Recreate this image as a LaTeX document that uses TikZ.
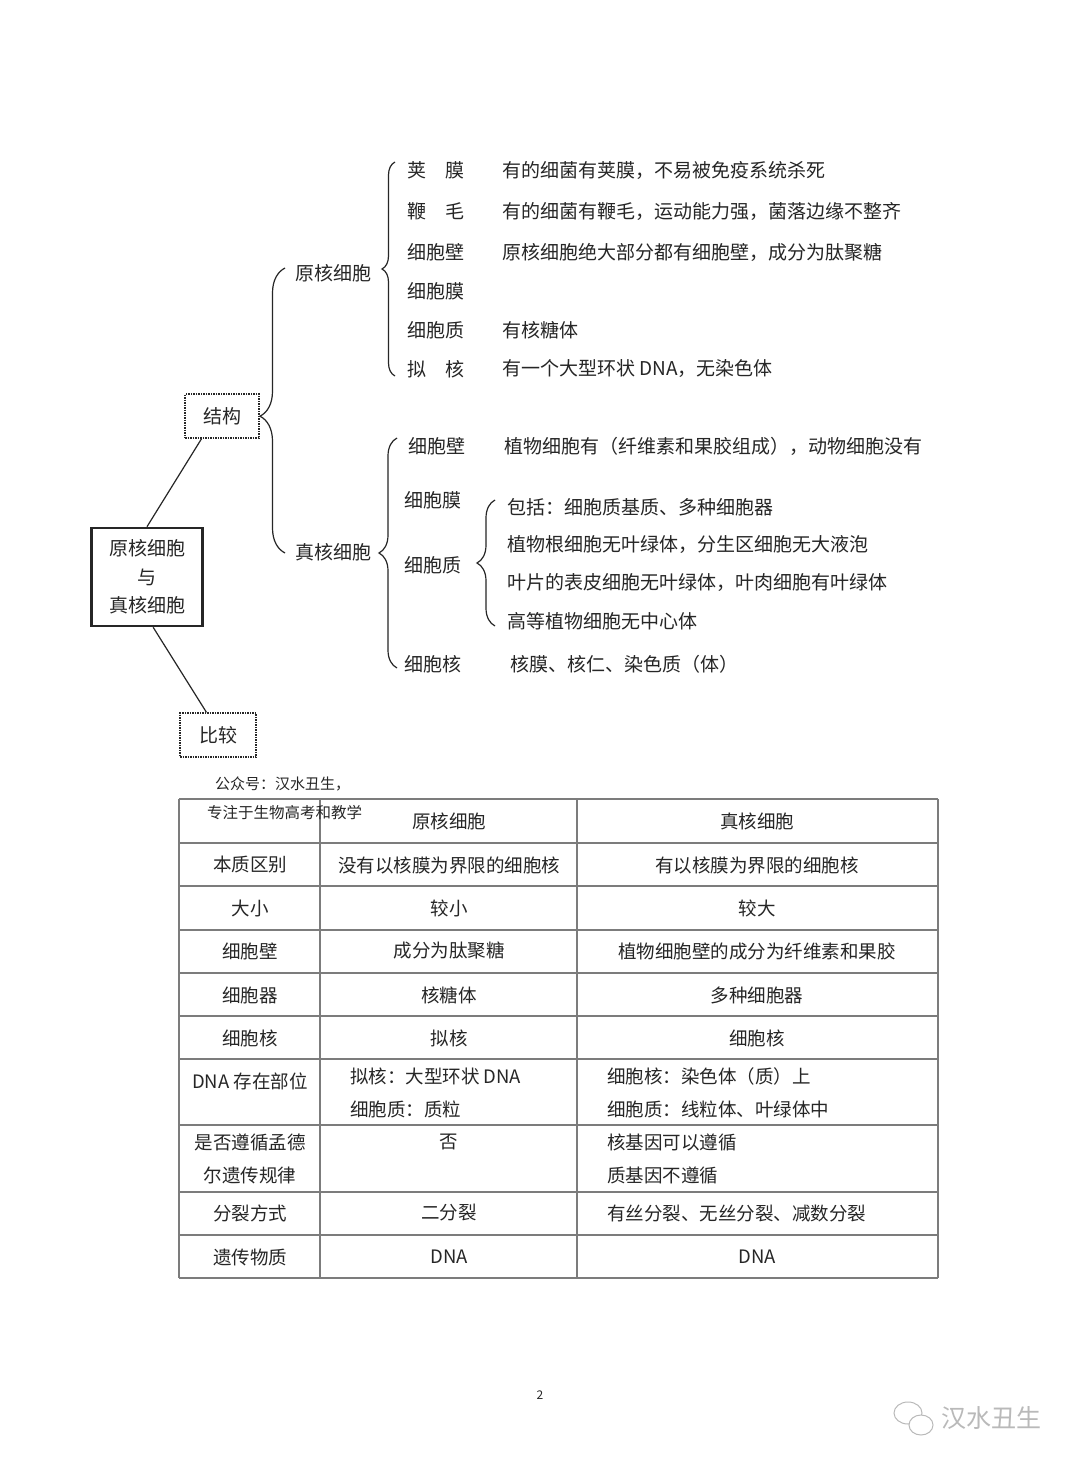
\documentclass[tikz,border=0pt]{standalone}
\usepackage{fontspec}
\setmainfont{Noto Sans CJK SC}
\usetikzlibrary{decorations.pathreplacing}
\definecolor{InkGray}{HTML}{262626}
\definecolor{RuleGray}{HTML}{7C7C7C}
\definecolor{MarkGray}{HTML}{B9B9B9}
\tikzset{
  txt/.style={inner sep=0pt,anchor=west,text=InkGray,font=\fontsize{19}{22}\selectfont},
  ctxt/.style={txt,anchor=center,font=\fontsize{18.5}{22}\selectfont},
  ltxt/.style={txt,font=\fontsize{18.5}{22}\selectfont},
  dotbox/.style={draw=InkGray,densely dotted,line width=1.5pt,minimum width=74pt,minimum height=44pt,inner sep=0pt,text=InkGray,font=\fontsize{19}{22}\selectfont},
  bracedraw/.style={decorate,decoration={brace,amplitude=#1},draw=InkGray,line width=1.2pt},
  stem/.style={draw=InkGray,line width=1.2pt}
}
\begin{document}
\begin{tikzpicture}[x=1pt,y=-1pt]
  \useasboundingbox[fill=white] (0,0) rectangle (1080,1466);
  % mind map
  \node[draw=InkGray,line width=2.6pt,minimum width=111pt,minimum height=98pt,inner sep=0pt,align=center,text=InkGray,font=\fontsize{19}{28.5}\selectfont] (main) at (147,577) {原核细胞\\与\\真核细胞};
  \node[dotbox] (jg) at (222,416) {结构};
  \node[dotbox,minimum width=76pt] (bj) at (218,735) {比较};
  \draw[stem] (main.north) -- (jg.-132);
  \draw[stem] (main.-83) -- (bj.117);

  \coordinate (jg-t) at (285,268);
  \coordinate (jg-b) at (285,553);
  \draw[bracedraw=25pt,decoration={aspect=0.48}] (jg-b) -- (jg-t);
  \node[txt] (yh) at (295,273) {原核细胞};
  \node[txt] (zh) at (295,552) {真核细胞};

  % prokaryote
  \coordinate (yh-t) at (395,162);
  \coordinate (yh-b) at (395,376);
  \draw[bracedraw=13pt] (yh-b) -- (yh-t);
  \foreach \i/\y/\a in {1/170/荚\hspace{1em}膜,2/211/鞭\hspace{1em}毛,3/252/细胞壁,4/291/细胞膜,5/330/细胞质,6/369/拟\hspace{1em}核}{
    \node[txt] (yh-\i) at (407,\y) {\a};
  }
  \foreach \i/\y/\b in {1/170/有的细菌有荚膜，不易被免疫系统杀死,2/211/有的细菌有鞭毛，运动能力强，菌落边缘不整齐,3/252/原核细胞绝大部分都有细胞壁，成分为肽聚糖,5/330/有核糖体,6/369/有一个大型环状 DNA，无染色体}{
    \node[txt] (yhd-\i) at (502,\y) {\b};
  }

  % eukaryote
  \coordinate (zh-t) at (397,438);
  \coordinate (zh-b) at (397,668);
  \draw[bracedraw=18pt] (zh-b) -- (zh-t);
  \node[txt] (zh-1) at (408,446) {细胞壁};
  \node[txt] (zh-2) at (404,500) {细胞膜};
  \node[txt] (zh-3) at (404,565) {细胞质};
  \node[txt] (zh-4) at (404,664) {细胞核};
  \node[txt] (zhd-1) at (504,446) {植物细胞有（纤维素和果胶组成），动物细胞没有};
  \node[txt] (zhd-4) at (510,664) {核膜、核仁、染色质（体）};

  \coordinate (zz-t) at (495,500);
  \coordinate (zz-b) at (495,626);
  \draw[bracedraw=18pt] (zz-b) -- (zz-t);
  \foreach \i/\y/\b in {1/507/包括：细胞质基质、多种细胞器,2/544/植物根细胞无叶绿体，分生区细胞无大液泡,3/582/叶片的表皮细胞无叶绿体，叶肉细胞有叶绿体,4/621/高等植物细胞无中心体}{
    \node[txt] (zzd-\i) at (507,\y) {\b};
  }

  % comparison table
  \node[txt,font=\fontsize{15}{18}\selectfont] (gzh) at (215,784) {公众号：汉水丑生，};
  \foreach \y in {799,843,886,930,973,1016,1059,1125,1192,1235,1278}{
    \draw[RuleGray,line width=1.1pt] (179,\y) -- (938,\y);
  }
  \foreach \x in {179,320,577,938}{
    \draw[RuleGray,line width=1.1pt] (\x,799) -- (\x,1278);
  }
  \node[txt,font=\fontsize{15.5}{18}\selectfont] (zz) at (207,813) {专注于生物高考和教学};
  \foreach \i/\y/\a/\b/\c in {1/821//原核细胞/真核细胞,2/865/本质区别/没有以核膜为界限的细胞核/有以核膜为界限的细胞核,3/908/大小/较小/较大,4/951/细胞壁/成分为肽聚糖/植物细胞壁的成分为纤维素和果胶,5/995/细胞器/核糖体/多种细胞器,6/1038/细胞核/拟核/细胞核,9/1257/遗传物质/DNA/DNA}{
    \node[ctxt] (ra-\i) at (250,\y) {\a};
    \node[ctxt] (rb-\i) at (449,\y) {\b};
    \node[ctxt] (rc-\i) at (757,\y) {\c};
  }
  \node[ctxt] (ra-7) at (250,1081) {DNA 存在部位};
  \node[ltxt] (rb-7a) at (350,1076) {拟核：大型环状 DNA};
  \node[ltxt] (rb-7b) at (350,1109) {细胞质：质粒};
  \node[ltxt] (rc-7a) at (607,1076) {细胞核：染色体（质）上};
  \node[ltxt] (rc-7b) at (607,1109) {细胞质：线粒体、叶绿体中};
  \node[ctxt] (ra-8a) at (250,1142) {是否遵循孟德};
  \node[ctxt] (ra-8b) at (250,1175) {尔遗传规律};
  \node[ctxt] (rb-8) at (449,1142) {否};
  \node[ltxt] (rc-8a) at (607,1142) {核基因可以遵循};
  \node[ltxt] (rc-8b) at (607,1175) {质基因不遵循};
  \node[ctxt] (ra-10) at (250,1213) {分裂方式};
  \node[ctxt] (rb-10) at (449,1213) {二分裂};
  \node[ltxt] (rc-10) at (607,1213) {有丝分裂、无丝分裂、减数分裂};

  % page number and mark
  \node[ctxt,font=\fontsize{12}{14}\selectfont] (pg) at (540,1395) {2};
  \draw[MarkGray,line width=1pt] (908,1413) ellipse (14 and 11);
  \draw[MarkGray,line width=1pt,fill=white] (921,1425) ellipse (12 and 10);
  \node[txt,text=MarkGray,font=\fontsize{25}{28}\selectfont] (wm) at (941,1418) {汉水丑生};
\end{tikzpicture}
\end{document}
